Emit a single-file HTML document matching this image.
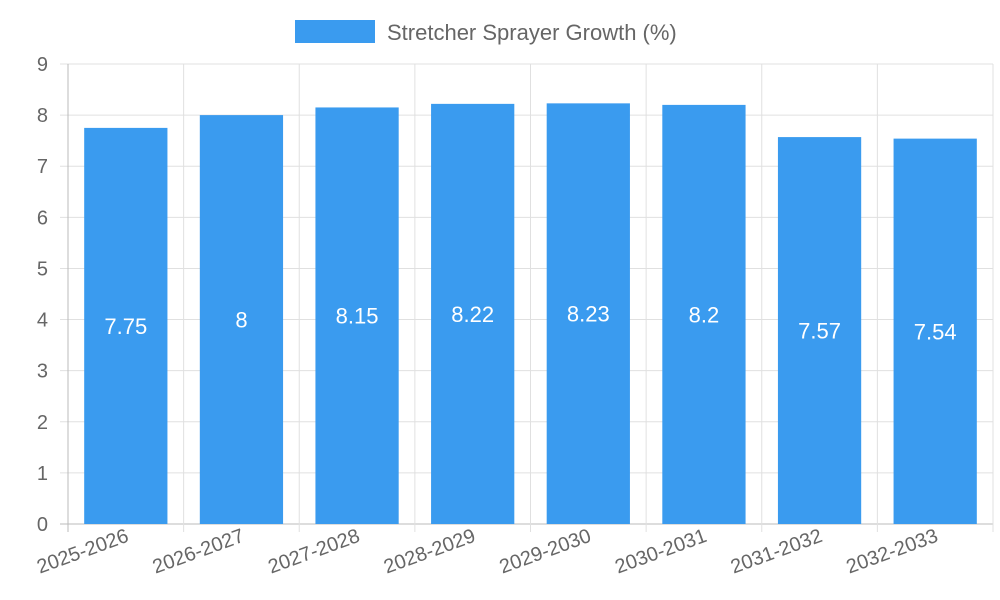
<!DOCTYPE html>
<html><head><meta charset="utf-8"><style>
html,body{margin:0;padding:0;background:#fff;}
svg{display:block;font-family:"Liberation Sans",sans-serif;}
</style></head><body>
<svg id="chart" width="1000" height="600">
<g>
<rect x="295" y="20" width="80" height="23" fill="#3a9bef"></rect>
<text x="387" y="40" font-size="22" fill="#666">Stretcher Sprayer Growth (%)</text>
</g>
<g id="grid"></g>
<g id="bars"></g>
<g id="axes"></g>
</svg>
<script>
const categories = ["2025-2026","2026-2027","2027-2028","2028-2029","2029-2030","2030-2031","2031-2032","2032-2033"];
const values = [7.75,8,8.15,8.22,8.23,8.2,7.57,7.54];
const yTicks = [0,1,2,3,4,5,6,7,8,9];

const NS="http://www.w3.org/2000/svg";
const L=68,R=993,T=64,B=524,YMAX=9;
const bw=(R-L)/categories.length;
function y(v){return B-(v/YMAX)*(B-T);}
function x(i){return L+i*bw;}
function mk(tag,attrs,parent){const e=document.createElementNS(NS,tag);for(const k in attrs)e.setAttribute(k,attrs[k]);parent.appendChild(e);return e;}
const grid=document.getElementById('grid'),bars=document.getElementById('bars'),axes=document.getElementById('axes');
yTicks.forEach(t=>{
  const ln=mk('line',{x1:L-8,x2:R,y1:y(t),y2:y(t),stroke:t===0?'#bbb':'#e0e0e0','stroke-width':1},grid);
  
  
  const tx=mk('text',{x:L-20,y:y(t)+7,'font-size':20,fill:'#666','text-anchor':'end'},axes);
  tx.textContent=t;
  
  
});
for(let i=0;i<=categories.length;i++){
  const ln=mk('line',{x1:x(i),x2:x(i),y1:T,y2:B+8,stroke:i===0?'#bbb':'#e0e0e0','stroke-width':1},grid);
  
  
}
categories.forEach((c,i)=>{
  const w=bw*0.72, bx=x(i)+(bw-w)/2, v=values[i];
  const r=mk('rect',{x:bx,y:y(v),width:w,height:B-y(v),fill:'#3a9bef'},bars);
  
  
  const lb=mk('text',{x:x(i)+bw/2,y:(y(v)+B)/2+8,'font-size':22,fill:'#fff','text-anchor':'middle'},bars);
  lb.textContent=String(v);
  
  
  const cx=x(i)+bw/2+4;
  const xl=mk('text',{x:cx,y:541,'font-size':20,fill:'#666','text-anchor':'end',transform:`rotate(-20 ${cx} 541)`},axes);
  xl.textContent=c;
  
  
});
</script>
</body></html>
